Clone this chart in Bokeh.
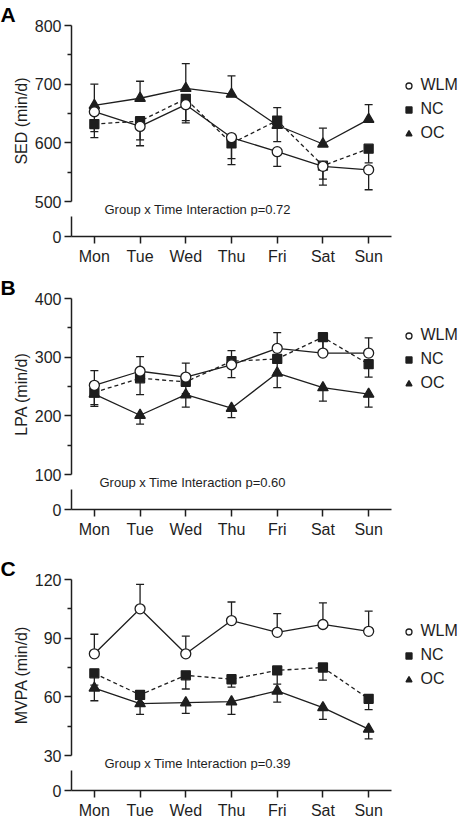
from bokeh.plotting import figure
from bokeh.models import (FactorRange, Range1d, FixedTicker, Whisker, TeeHead,
                          ColumnDataSource, Legend, LegendItem, Label, Title)
from bokeh.layouts import column
from bokeh.embed import file_html
from bokeh.resources import INLINE

FONT = "Liberation Sans"
INK = "#1e1e1e"

days = ["Mon", "Tue", "Wed", "Thu", "Fri", "Sat", "Sun"]
groups = ["WLM", "NC", "OC"]

# Panel A: SED (min/d)
sed_wlm = [653, 628, 665, 609, 585, 560, 554]
sed_nc = [632, 637, 675, 599, 638, 561, 590]
sed_oc = [664, 676, 693, 683, 630, 598, 640]
sed_wlm_err = [44, 33, 31, 36, 25, 32, 34]
sed_nc_err = [13, 32, 37, 36, 36, 23, 24]
sed_oc_err = [36, 29, 42, 31, 30, 27, 25]
sed_ticks = [500, 600, 700, 800]
sed_minor = [550, 650, 750]

# Panel B: LPA (min/d)
lpa_wlm = [252, 276, 266, 287, 315, 307, 307]
lpa_nc = [240, 264, 258, 293, 297, 334, 288]
lpa_oc = [237, 201, 236, 213, 273, 248, 237]
lpa_wlm_err = [25, 25, 24, 24, 27, 25, 26]
lpa_nc_err = [21, 28, 20, 28, 24, 25, 22]
lpa_oc_err = [21, 15, 21, 16, 25, 23, 22]
lpa_ticks = [100, 200, 300, 400]
lpa_minor = [150, 250, 350]

# Panel C: MVPA (min/d)
mvpa_wlm = [82, 105, 82, 99, 93, 97, 93.5]
mvpa_nc = [72, 61, 71, 69, 73.5, 75, 59]
mvpa_oc = [64.5, 56.5, 57, 57.5, 63, 54.5, 43.5]
mvpa_wlm_err = [10, 12.5, 9, 9.5, 9.5, 11, 10.3]
mvpa_nc_err = [6, 4, 7, 4, 7, 6.5, 5.5]
mvpa_oc_err = [6.5, 5.5, 5.5, 6.5, 5.7, 6, 5]
mvpa_ticks = [30, 60, 90, 120]
mvpa_minor = [45, 75, 105]

notes = ["Group x Time Interaction p=0.72",
         "Group x Time Interaction p=0.60",
         "Group x Time Interaction p=0.39"]

PX = 176      # pixels of the main axis segment
GAP = 15      # pixels between main segment and lower segment
FH = PX + GAP
FW = 320
MBL = 71
MBR = 67

STYLE = {
    "WLM": dict(marker="circle", size=10, fill="white", dash="solid"),
    "NC": dict(marker="square", size=9, fill=INK, dash="4 3"),
    "OC": dict(marker="triangle", size=10.5, fill=INK, dash="solid"),
}


def style_axis(ax):
    ax.axis_line_color = INK
    ax.axis_line_width = 1.5
    ax.major_tick_line_color = INK
    ax.major_tick_line_width = 1.5
    ax.minor_tick_line_color = INK
    ax.minor_tick_line_width = 1.5
    ax.major_tick_in = 0
    ax.major_tick_out = 7
    ax.minor_tick_in = 0
    ax.minor_tick_out = 4
    ax.major_label_text_font = FONT
    ax.major_label_text_font_size = "16px"
    ax.major_label_text_color = INK


def make_panel(letter, ylabel, ticks, minor, series, note, note_x, legend_y, mbt, mbb):
    ylo, yhi = ticks[0], ticks[-1]
    span = yhi - ylo
    bottom_val = ylo - span * GAP / PX
    xr = FactorRange(factors=days)

    top = figure(x_range=xr, y_range=Range1d(bottom_val, yhi),
                 frame_width=FW, frame_height=FH,
                 min_border_left=MBL, min_border_right=MBR,
                 min_border_top=mbt, min_border_bottom=0,
                 x_axis_location=None, toolbar_location=None,
                 output_backend="svg")
    top.outline_line_color = None
    top.grid.visible = False
    top.title = Title(text=letter, align="left", offset=-MBL, standoff=0,
                      text_font=FONT, text_font_size="21px",
                      text_font_style="bold", text_color="#000000")
    ya = top.yaxis[0]
    style_axis(ya)
    ya.ticker = FixedTicker(ticks=ticks, minor_ticks=minor)
    ya.bounds = (ylo, yhi)
    ya.major_label_standoff = 3
    ya.axis_label = ylabel
    ya.axis_label_standoff = 2
    ya.axis_label_text_font = FONT
    ya.axis_label_text_font_size = "16px"
    ya.axis_label_text_font_style = "normal"
    ya.axis_label_text_color = INK

    # error bars (one-sided, as in the reference)
    for name, vals, errs, direction in series:
        if direction == "up":
            lo = list(vals)
            up = [v + e for v, e in zip(vals, errs)]
        else:
            up = list(vals)
            lo = [v - e for v, e in zip(vals, errs)]
        src = ColumnDataSource(dict(x=days, lo=lo, up=up))
        head = TeeHead(size=8, line_color=INK, line_width=1.3)
        w = Whisker(base="x", lower="lo", upper="up", source=src,
                    line_color=INK, line_width=1.3,
                    upper_head=head if direction == "up" else None,
                    lower_head=head if direction == "down" else None)
        top.add_layout(w)

    draw_order = ["OC", "NC", "WLM"]
    smap = {s[0]: s for s in series}
    for name in draw_order:
        vals = smap[name][1]
        st = STYLE[name]
        top.line(x=days, y=vals, line_color=INK, line_width=1.3,
                 line_dash=st["dash"])
    rends = {}
    for name in draw_order:
        vals = smap[name][1]
        st = STYLE[name]
        rends[name] = top.scatter(x=days, y=vals, marker=st["marker"], size=st["size"],
                                  fill_color=st["fill"], line_color=INK, line_width=1.3)

    legend = Legend(items=[LegendItem(label=g, renderers=[rends[g]]) for g in groups],
                    location=(9.5, legend_y), orientation="vertical",
                    glyph_width=15, glyph_height=15, label_height=20, spacing=4,
                    label_standoff=5, padding=0, margin=0,
                    border_line_alpha=0, background_fill_alpha=0,
                    label_text_font=FONT, label_text_font_size="16px",
                    label_text_color=INK)
    top.add_layout(legend, "right")

    top.add_layout(Label(x=note_x, y=7, x_units="screen", y_units="screen",
                         text=note, text_font=FONT, text_font_size="13px",
                         text_color=INK, text_baseline="middle", text_align="left"))

    bot = figure(x_range=xr, y_range=Range1d(0, 1),
                 frame_width=FW, frame_height=20,
                 min_border_left=MBL, min_border_right=MBR,
                 min_border_top=0, min_border_bottom=mbb,
                 toolbar_location=None, output_backend="svg")
    bot.outline_line_color = None
    bot.grid.visible = False
    by = bot.yaxis[0]
    style_axis(by)
    by.ticker = FixedTicker(ticks=[0], minor_ticks=[])
    by.bounds = (0, 1)
    by.major_label_standoff = 3
    bx = bot.xaxis[0]
    style_axis(bx)
    bx.major_tick_out = 7
    bx.major_label_standoff = 4
    return [top, bot]


pA = make_panel("A", "SED (min/d)", sed_ticks, sed_minor,
                [("WLM", sed_wlm, sed_wlm_err, "down"),
                 ("NC", sed_nc, sed_nc_err, "down"),
                 ("OC", sed_oc, sed_oc_err, "up")],
                notes[0], 33, 73, 18, 30)
pB = make_panel("B", "LPA (min/d)", lpa_ticks, lpa_minor,
                [("WLM", lpa_wlm, lpa_wlm_err, "up"),
                 ("NC", lpa_nc, lpa_nc_err, "down"),
                 ("OC", lpa_oc, lpa_oc_err, "down")],
                notes[1], 28, 96, 31, 30)
pC = make_panel("C", "MVPA (min/d)", mvpa_ticks, mvpa_minor,
                [("WLM", mvpa_wlm, mvpa_wlm_err, "up"),
                 ("NC", mvpa_nc, mvpa_nc_err, "down"),
                 ("OC", mvpa_oc, mvpa_oc_err, "down")],
                notes[2], 33, 81, 39, 27)

layout = column(*(pA + pB + pC), spacing=0)
open("out.html", "w").write(file_html(layout, INLINE))
